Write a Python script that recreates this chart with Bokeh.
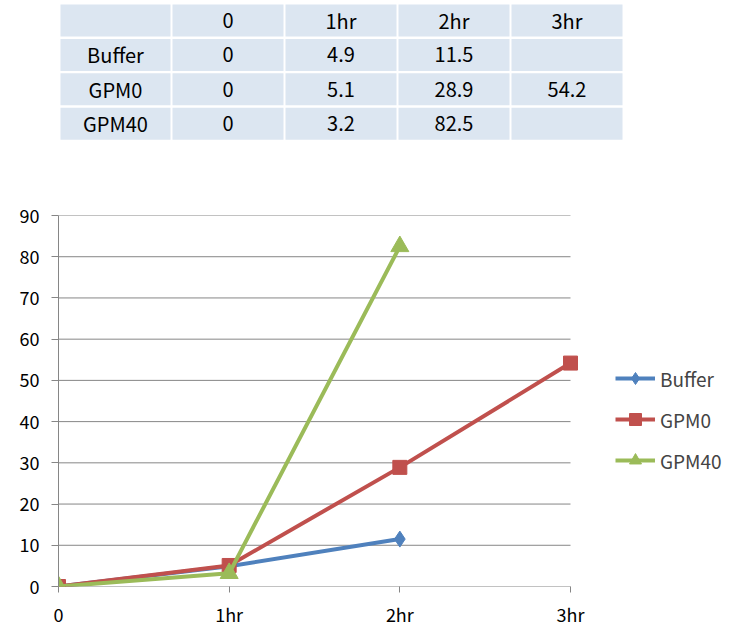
import numpy as np
from bokeh.plotting import figure
from bokeh.models import Range1d, ColumnDataSource, Legend, LegendItem, FixedTicker
from bokeh.embed import file_html
from bokeh.resources import INLINE
from bokeh.core.properties import value

# ---- data ----
times = ["0", "1hr", "2hr", "3hr"]
series_names = ["Buffer", "GPM0", "GPM40"]
buffer_vals = [0, 4.9, 11.5, None]
gpm0_vals = [0, 5.1, 28.9, 54.2]
gpm40_vals = [0, 3.2, 82.5, None]
y_ticks = [0, 10, 20, 30, 40, 50, 60, 70, 80, 90]

series_vals = [buffer_vals, gpm0_vals, gpm40_vals]
colors = ["#4F81BD", "#C0504D", "#9BBB59"]
markers = ["diamond", "square", "triangle"]
marker_sizes = [16, 14, 18]

FONT = "Noto Sans CJK KR"
GRID = "#868686"

# ---- summary table on top ----
tbl = figure(width=750, height=150, x_range=Range1d(0, 750), y_range=Range1d(150, 0),
             output_backend="svg", toolbar_location=None,
             min_border=0, outline_line_color=None)
tbl.axis.visible = False
tbl.grid.visible = False

col_left = [60] + [172 + i * 113 for i in range(len(times))]
col_width = [110] + [111] * len(times)
row_top = [4 + r * 34.4 for r in range(len(series_names) + 1)]
row_h = 32

def fmt(v):
    if v is None:
        return ""
    return "0" if v == 0 else f"{v:g}"

rows = [[""] + times] + [[name] + [fmt(v) for v in vals]
                         for name, vals in zip(series_names, series_vals)]

L, R, T, B, TX, TY, TT = [], [], [], [], [], [], []
for r, row in enumerate(rows):
    for c, txt in enumerate(row):
        L.append(col_left[c]); R.append(col_left[c] + col_width[c])
        T.append(row_top[r]); B.append(row_top[r] + row_h)
        TX.append(col_left[c] + col_width[c] / 2); TY.append(row_top[r] + row_h / 2)
        TT.append(txt)

tsrc = ColumnDataSource(dict(left=L, right=R, top=T, bottom=B, tx=TX, ty=TY, txt=TT))
tbl.quad(left="left", right="right", top="top", bottom="bottom", source=tsrc,
         fill_color="#DCE6F1", line_color=None)
tbl.text(x="tx", y="ty", text="txt", source=tsrc, text_align="center",
         text_baseline="middle", text_font=value(FONT), text_font_size="20px",
         text_color="black")

# ---- line chart ----
# The frame runs to the right edge so the legend can sit beside the plot area;
# the plotted span (0..3) occupies the left 512 px of the 692 px frame.
PLOT_W, FRAME_W = 512, 692
n = len(times)
p = figure(width=750, height=492,
           x_range=Range1d(0, (n - 1) * FRAME_W / PLOT_W), y_range=Range1d(0, 90),
           output_backend="svg", toolbar_location=None,
           min_border_left=58, min_border_right=0, min_border_top=65,
           min_border_bottom=56, outline_line_color=None)

p.grid.visible = False
# horizontal gridlines (the one at 0 doubles as the category axis line)
p.segment(x0=[0] * len(y_ticks), x1=[n - 1] * len(y_ticks), y0=y_ticks, y1=y_ticks,
          line_color=GRID, line_width=1)

p.yaxis.ticker = FixedTicker(ticks=y_ticks)
p.xaxis.ticker = FixedTicker(ticks=list(range(n)))
p.xaxis.major_label_overrides = {i: t for i, t in enumerate(times)}
for ax in (p.xaxis, p.yaxis):
    ax.axis_line_color = GRID
    ax.major_tick_line_color = GRID
    ax.minor_tick_line_color = None
    ax.major_tick_in = 0
    ax.major_label_text_font = FONT
    ax.major_label_text_font_size = "18px"
    ax.major_label_text_color = "black"
p.xaxis.axis_line_color = None
p.yaxis.major_tick_out = 7
p.yaxis.major_label_standoff = 12
p.xaxis.major_tick_out = 6
p.xaxis.major_label_standoff = 8

xs = list(range(n))
items = []
for name, vals, col, mk, ms in zip(series_names, series_vals, colors, markers, marker_sizes):
    ys = np.array([np.nan if v is None else v for v in vals], dtype=float)
    src = ColumnDataSource(dict(x=xs, y=ys))
    ln = p.line("x", "y", source=src, line_color=col, line_width=4)
    sc = p.scatter("x", "y", source=src, marker=mk, size=ms, fill_color=col,
                   line_color=col)
    items.append(LegendItem(label=name, renderers=[ln, sc]))

legend = Legend(items=items, location=(557, 111), orientation="vertical",
                glyph_width=40, glyph_height=30, label_height=30, spacing=11,
                padding=0, margin=0, label_standoff=5,
                label_text_font=FONT, label_text_font_size="19px",
                border_line_alpha=0, background_fill_alpha=0)
p.add_layout(legend)

open("out.html", "w").write(file_html([tbl, p], INLINE))
